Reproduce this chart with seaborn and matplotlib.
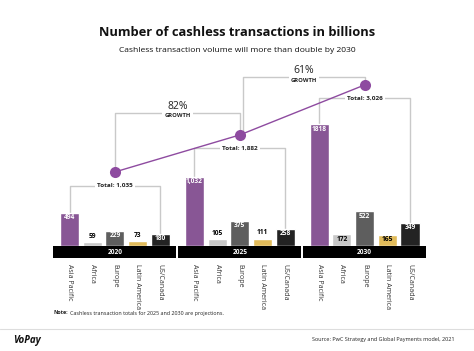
import numpy as np
import pandas as pd
import matplotlib.pyplot as plt
from matplotlib.patches import Rectangle
import seaborn as sns

years = ["2020", "2025", "2030"]
regions = ["Asia Pacific", "Africa", "Europe", "Latin America", "US/Canada"]
v2020 = [494, 59, 229, 73, 180]
v2025 = [1032, 105, 375, 111, 258]
v2030 = [1818, 172, 522, 165, 349]
lab2020 = ["494", "59", "229", "73", "180"]
lab2025 = ["1,032", "105", "375", "111", "258"]
lab2030 = ["1818", "172", "522", "165", "349"]
totals = [1035, 1882, 3026]
total_labels = ["Total: 1,035", "Total: 1,882", "Total: 3,026"]
growth = ["82%", "61%"]

colors = ["#8E4BA0", "#C8C8C8", "#5E5E5E", "#F7C544", "#232323"]
txtcol = ["white", "black", "white", "black", "white"]
purple = "#8E4BA0"
grey = "#C9C9C9"

sns.set_theme(style="white")
plt.rcParams["font.family"] = ["Open Sans", "DejaVu Sans"]

gap = 5.5
rows = []
for g, (yr, vals, labs) in enumerate(zip(years, [v2020, v2025, v2030], [lab2020, lab2025, lab2030])):
    for j, (r, v, l) in enumerate(zip(regions, vals, labs)):
        rows.append({"year": yr, "region": r, "value": v, "label": l, "pos": g * gap + j, "j": j})
df = pd.DataFrame(rows)

fig = plt.figure(figsize=(4.74, 3.51), dpi=100)
ax = fig.add_axes([40 / 474, (351 - 258) / 351, 400 / 474, 198 / 351])
ylo, yhi = -179, 2776

sns.barplot(data=df, x="pos", y="value", hue="region", palette=colors, hue_order=regions,
            native_scale=True, dodge=False, width=0.84, legend=False, ax=ax, zorder=3)
ax.set_xlim(-1.30, 16.32)
ax.set_ylim(ylo, yhi)

# twin scale for the totals line
ax2 = ax.twinx()
tlo, thi = -934, 3597
ax2.set_ylim(tlo, thi)
centers = [g * gap + 2 for g in range(3)]
tdf = pd.DataFrame({"x": centers, "total": totals})
sns.lineplot(data=tdf, x="x", y="total", ax=ax2, color=purple, lw=1.0, marker="o",
             markersize=8, markeredgewidth=0, zorder=5)
ax2.set_xlim(-1.30, 16.32)
ax2.axis("off")


def tw(v):
    # twin-scale value -> main-scale value
    return ylo + (v - tlo) / (thi - tlo) * (yhi - ylo)


# value labels
for _, r in df.iterrows():
    v = r["value"]
    if v > 150:
        ax.text(r["pos"], v - 75, r["label"], ha="center", va="center", fontsize=4.8,
                fontweight="bold", color=txtcol[r["j"]], zorder=6)
    else:
        ax.text(r["pos"], v + 85, r["label"], ha="center", va="center", fontsize=4.8,
                fontweight="bold", color="black", zorder=6)

# black year bands
for g, yr in enumerate(years):
    x0 = g * gap - 0.73
    ax.add_patch(Rectangle((x0, ylo), 5.42, -ylo, color="black", zorder=4, lw=0))
    ax.text(g * gap + 2, ylo / 2, yr, ha="center", va="center", color="white",
            fontsize=4.8, fontweight="bold", zorder=6)

# total brackets
vals_all = [v2020, v2025, v2030]
for g in range(3):
    by = tw(totals[g] - 310)
    xl, xr = g * gap, g * gap + 4
    ax.plot([xl, xl, xr, xr], [vals_all[g][0], by, by, vals_all[g][4]], color=grey, lw=1.0, zorder=2)
    ax.text(g * gap + 2, by, total_labels[g], ha="center", va="center", fontsize=4.6,
            fontweight="bold", color="#222222", zorder=3,
            bbox=dict(boxstyle="square,pad=0.35", fc="white", ec="none"))

# growth brackets
gy = [2390, 3210]
for k in range(2):
    xl, xr = centers[k] + (0.0 if k == 0 else 0.13), centers[k + 1]
    y = tw(gy[k])
    ax.plot([xl, xl, xr, xr], [tw(totals[k]), y, y, tw(totals[k + 1])], color=grey, lw=1.0, zorder=2)
    xm = (xl + xr) / 2
    ax.text(xm, y + 10, growth[k], ha="center", va="bottom", fontsize=7.5, color="#222222",
            zorder=3, bbox=dict(boxstyle="square,pad=0.3", fc="white", ec="none"))
    ax.text(xm, y - 10, "GROWTH", ha="center", va="top", fontsize=4.2,
            fontweight="bold", color="#222222", zorder=4,
            bbox=dict(boxstyle="square,pad=0.35", fc="white", ec="none"))

ax.set_xticks(df["pos"])
ax.set_xticklabels(df["region"], rotation=270, fontsize=5, color="#333333")
ax.tick_params(axis="x", length=0, pad=4)
ax.set_yticks([])
ax.set_xlabel("")
ax.set_ylabel("")
sns.despine(ax=ax, left=True, bottom=True)

fig.text(0.5, 1 - 33 / 351, "Number of cashless transactions in billions", ha="center", va="center",
         fontsize=9.3, fontweight="bold", color="#111111")
fig.text(0.5, 1 - 51 / 351, "Cashless transaction volume will more than double by 2030", ha="center",
         va="center", fontsize=6.1, color="#111111")
note_b = fig.text(53 / 474, 1 - 313 / 351, "Note:", ha="left", va="center", fontsize=3.9,
                  fontweight="bold", color="#222222")
fig.canvas.draw()
bb = note_b.get_window_extent()
fig.text(bb.x1 / 474 + 2 / 474, 1 - 313 / 351, "Cashless transaction totals for 2025 and 2030 are projections.",
         ha="left", va="center", fontsize=3.9, color="#222222")
fig.add_artist(plt.Line2D([0, 1], [1 - 329 / 351] * 2, color="#DDDDDD", lw=0.8))
fig.text(13 / 474, 1 - 340 / 351, "VoPay", ha="left", va="center", fontsize=7,
         fontweight="bold", style="italic", color="#111111")
fig.text(455 / 474, 1 - 340 / 351, "Source: PwC Strategy and Global Payments model, 2021", ha="right",
         va="center", fontsize=4.0, color="#222222")

fig.savefig("out.png", dpi=100)
